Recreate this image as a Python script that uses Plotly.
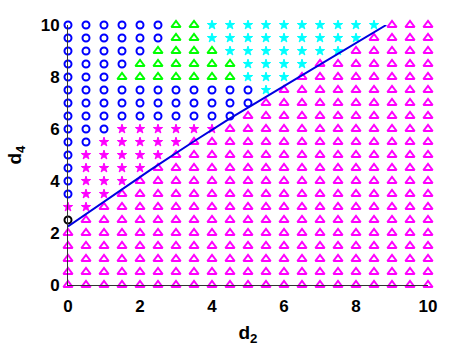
import plotly.graph_objects as go

# grid coordinates
d2_values = [i * 0.5 for i in range(21)]
d4_values = [i * 0.5 for i in range(21)]

# category grid, rows from d4=10 (top) down to d4=0
# B blue circle, G green triangle, C cyan star, S magenta star, T magenta triangle, K black circle
grid_rows = [
    "BBBBBBGGCCCCCCCCCCTTT",  # 10
    "BBBBBBGGCCCCCCCCCTTTT",  # 9.5
    "BBBBBGGGGCCCCCCCTTTTT",  # 9
    "BBBBGGGGGGCCCCTTTTTTT",  # 8.5
    "BBBGGGGGGGCCCTTTTTTTT",  # 8
    "BBBBBBBBBBBCTTTTTTTTT",  # 7.5
    "BBBBBBBBBBBTTTTTTTTTT",  # 7
    "BBBBBBBBBBTTTTTTTTTTT",  # 6.5
    "BBBSSSSSSTTTTTTTTTTTT",  # 6
    "BBSSSSSTTTTTTTTTTTTTT",  # 5.5
    "BSSSSSTTTTTTTTTTTTTTT",  # 5
    "BSSSSTTTTTTTTTTTTTTTT",  # 4.5
    "BSSSTTTTTTTTTTTTTTTTT",  # 4
    "BSSTTTTTTTTTTTTTTTTTT",  # 3.5
    "SSTTTTTTTTTTTTTTTTTTT",  # 3
    "KTTTTTTTTTTTTTTTTTTTT",  # 2.5
    "TTTTTTTTTTTTTTTTTTTTT",  # 2
    "TTTTTTTTTTTTTTTTTTTTT",  # 1.5
    "TTTTTTTTTTTTTTTTTTTTT",  # 1
    "TTTTTTTTTTTTTTTTTTTTT",  # 0.5
    "TTTTTTTTTTTTTTTTTTTTT",  # 0
]

# boundary curve
line_d2 = [0.0, 2.27, 3.47, 4.49, 6.16, 8.84]
line_d4 = [2.25, 4.41, 5.5, 6.4, 7.78, 10.0]

tick_vals = [0, 2, 4, 6, 8, 10]
tick_text = ["0", "2", "4", "6", "8", "10"]

styles = {
    "T": dict(symbol="triangle-up-open", color="#FF00FF", size=8, lw=2),
    "B": dict(symbol="circle-open", color="#0000FF", size=7, lw=2),
    "G": dict(symbol="triangle-up-open", color="#00FF00", size=8, lw=2),
    "C": dict(symbol="star", color="#00FFFF", size=7, lw=1),
    "S": dict(symbol="star", color="#FF00FF", size=7, lw=1),
    "K": dict(symbol="circle-open", color="#000000", size=7, lw=2),
}

n = len(grid_rows)
fig = go.Figure()
for code in ["T", "B", "G", "C", "S", "K"]:
    xs, ys = [], []
    for r, row in enumerate(grid_rows):
        d4 = d4_values[n - 1 - r]
        for c, ch in enumerate(row):
            if ch == code:
                xs.append(d2_values[c])
                ys.append(d4)
    st = styles[code]
    fig.add_trace(go.Scatter(
        x=xs, y=ys, mode="markers", cliponaxis=False, showlegend=False,
        marker=dict(symbol=st["symbol"], size=st["size"], color=st["color"],
                    line=dict(color=st["color"], width=st["lw"])),
    ))

fig.add_trace(go.Scatter(x=line_d2, y=line_d4, mode="lines", showlegend=False,
                         cliponaxis=False, line=dict(color="#0000E0", width=2)))

font = dict(family="Liberation Sans, Arial, sans-serif", size=17, color="#000000", weight="bold")

fig.update_layout(
    width=474, height=355,
    margin=dict(l=68, r=46, t=25, b=70),
    plot_bgcolor="white", paper_bgcolor="white",
    font=font,
    xaxis=dict(range=[0, 10], tickvals=tick_vals, ticktext=tick_text, showgrid=False,
               zeroline=False, showline=True, linecolor="#333333", linewidth=1,
               ticks="", ticklabelstandoff=6, tickfont=font,
               title=dict(text="d<sub>2</sub>", font=dict(family=font["family"], size=19, weight="bold"), standoff=10)),
    yaxis=dict(range=[0, 10], tickvals=tick_vals, ticktext=tick_text, showgrid=False,
               zeroline=False, showline=True, linecolor="#333333", linewidth=1,
               ticks="", ticklabelstandoff=4, tickfont=font,
               title=dict(text="d<sub>4</sub>", font=dict(family=font["family"], size=19, weight="bold"), standoff=14)),
)

fig.write_html("out.html")
